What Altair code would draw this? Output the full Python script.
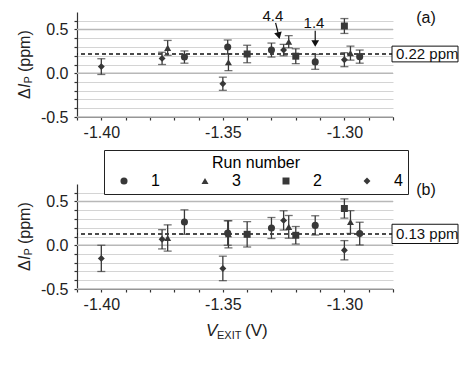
import altair as alt
import pandas as pd

# ---------------- data ----------------
run = ["4", "4", "3", "1", "1", "3", "4", "2", "1", "4", "3", "2", "1", "2", "4", "3", "1"]
v_exit = [-1.400, -1.375, -1.3727, -1.3658, -1.348, -1.3477, -1.350, -1.340, -1.330,
          -1.325, -1.3229, -1.320, -1.312, -1.300, -1.300, -1.2975, -1.2937]
dIp_a = [0.076, 0.17, 0.29, 0.185, 0.30, 0.125, -0.12, 0.22, 0.265,
         0.265, 0.36, 0.195, 0.13, 0.54, 0.155, 0.23, 0.19]
err_a = [0.09, 0.07, 0.085, 0.07, 0.08, 0.095, 0.075, 0.10, 0.08,
         0.065, 0.07, 0.085, 0.085, 0.085, 0.08, 0.08, 0.075]
dIp_b = [-0.15, 0.068, 0.083, 0.265, 0.14, 0.125, -0.265, 0.125, 0.197,
         0.284, 0.21, 0.114, 0.227, 0.42, -0.057, 0.265, 0.133]
err_b = [0.15, 0.11, 0.15, 0.14, 0.14, 0.155, 0.14, 0.145, 0.12,
         0.11, 0.13, 0.10, 0.11, 0.11, 0.11, 0.13, 0.13]
mean_a = 0.22
mean_b = 0.13
label_a = "0.22 ppm"
label_b = "0.13 ppm"

run_order = ["1", "3", "2", "4"]
run_shapes = ["circle", "triangle-up", "square", "diamond"]
run_sizes = [50, 48, 42, 75]

x_ticks = [round(-1.41 + 0.01 * i, 2) for i in range(14)]
y_ticks = [round(-0.5 + 0.1 * i, 1) for i in range(12)]
strong_grid = [-0.5, 0.0, 0.5]

# annotation arrows in panel (a)
ann_label = ["4.4", "1.4"]
ann_tx = [-1.3294, -1.3125]
ann_ty = [0.655, 0.575]
ann_x1 = [-1.3283, -1.3120]
ann_y1 = [0.575, 0.485]
ann_x2 = [-1.3270, -1.3120]
ann_y2 = [0.43, 0.34]
ann_angle = [346, 0]

# ---------------- styling ----------------
W, H = 316, 105
INK = "#383838"
FONT = "Liberation Sans"

xs = alt.Scale(domain=[-1.41, -1.28], nice=False, zero=False)
ys = alt.Scale(domain=[-0.5, 0.7], nice=False, zero=False)

x_axis = alt.Axis(
    title="", values=x_ticks, grid=False,
    labelExpr="abs(round(datum.value*100)) % 5 == 0 ? replace(format(datum.value, '.2f'), '\u2212', '-') : ''",
    labelFontSize=16, labelPadding=4, tickSize=3, labelFlush=False, labelOverlap=False,
    labelBound=False,
)
y_axis = alt.Axis(
    title="", values=y_ticks, grid=True, gridColor="#d4d4d4", gridWidth=1,
    labelExpr="abs(round(datum.value*10)) % 5 == 0 ? replace(format(datum.value, '.1f'), '\u2212', '-') : ''",
    labelFontSize=16, labelPadding=6, tickSize=3, labelOverlap=False, labelBound=False,
    labelFlush=False,
)

legend = alt.Legend(
    title="Run number", orient="none", legendX=27, legendY=138,
    direction="horizontal", columns=4, titleAnchor="middle", titleFontSize=16,
    titleFontWeight="normal", titleFont=FONT, labelFont=FONT, labelFontSize=16,
    symbolFillColor=INK, symbolStrokeColor=INK, symbolOffset=7,
    labelOffset=19, columnPadding=30, padding=5, titlePadding=2,
    strokeColor="#222222", fillColor="white",
)


def X(f):
    return alt.X(f, scale=xs, axis=x_axis)


def Y(f):
    return alt.Y(f, scale=ys, axis=y_axis)


def y_title_layers():
    base = alt.Chart(pd.DataFrame({"s": [0]}))
    parts = []
    specs = [
        ("\u0394", 87, -52, 16, "normal"),
        ("I", 76, -52, 16, "italic"),
        ("P", 71.5, -48, 11, "normal"),
        ("(ppm)", 60, -52, 16, "normal"),
    ]
    for txt, yy, xx, fs, st in specs:
        parts.append(base.mark_text(
            text=txt, angle=270, align="left", baseline="middle", font=FONT,
            fontSize=fs, fontStyle=st, color="#222222",
        ).encode(x=alt.value(xx), y=alt.value(yy)))
    return parts


def panel(dIp, err, mean, mean_label, tag, box_half, is_top, is_bottom):
    df = pd.DataFrame({
        "run": run, "x": v_exit, "y": dIp,
        "lo": [a - b for a, b in zip(dIp, err)],
        "hi": [a + b for a, b in zip(dIp, err)],
    })
    base = alt.Chart(df)
    one = alt.Chart(pd.DataFrame({"s": [0]}))

    layers = []
    layers.append(alt.Chart(pd.DataFrame({"g": strong_grid})).mark_rule(
        color="#b8b8b8", strokeWidth=1.4).encode(y=Y("g:Q")))
    layers.append(alt.Chart(pd.DataFrame({"m": [mean]})).mark_rule(
        color="#111111", strokeDash=[4, 3], strokeWidth=1.5).encode(y=Y("m:Q")))
    layers.append(base.mark_rule(color=INK, strokeWidth=1.3).encode(
        x=X("x:Q"), y=Y("lo:Q"), y2="hi:Q"))
    layers.append(base.mark_tick(orient="horizontal", color=INK, size=8, thickness=1.3).encode(
        x=X("x:Q"), y=Y("lo:Q")))
    layers.append(base.mark_tick(orient="horizontal", color=INK, size=8, thickness=1.3).encode(
        x=X("x:Q"), y=Y("hi:Q")))
    layers.append(base.mark_point(filled=True, opacity=1, color=INK).encode(
        x=X("x:Q"), y=Y("y:Q"),
        shape=alt.Shape("run:N", scale=alt.Scale(domain=run_order, range=run_shapes),
                        sort=run_order, legend=legend),
        size=alt.Size("run:N", scale=alt.Scale(domain=run_order, range=run_sizes),
                      sort=run_order, legend=legend)))
    # value box to the right
    box = pd.DataFrame({"b1": [mean + box_half], "b2": [mean - box_half], "m": [mean],
                        "t": [mean_label]})
    layers.append(alt.Chart(box).mark_rect(fill="white", stroke="#111111", strokeWidth=1).encode(
        x=alt.value(W - 1), x2=alt.value(W + 65), y=Y("b1:Q"), y2="b2:Q"))
    layers.append(alt.Chart(box).mark_text(align="left", baseline="middle", font=FONT,
                                           fontSize=15, color="#111111").encode(
        x=alt.value(W + 3), y=Y("m:Q"), text="t:N"))
    layers.append(one.mark_text(text=tag, align="center", baseline="middle", font=FONT,
                                fontSize=16, color="#111111").encode(
        x=alt.value(W + 33), y=alt.value(6)))
    layers.extend(y_title_layers())

    if is_top:
        ann = pd.DataFrame({"lab": ann_label, "tx": ann_tx, "ty": ann_ty, "x1": ann_x1,
                            "y1": ann_y1, "x2": ann_x2, "y2": ann_y2, "ang": ann_angle})
        ab = alt.Chart(ann)
        layers.append(ab.mark_text(font=FONT, fontSize=15, color="#111111", baseline="middle").encode(
            x=X("tx:Q"), y=Y("ty:Q"), text="lab:N"))
        layers.append(ab.mark_rule(color="#111111", strokeWidth=1.2).encode(
            x=X("x1:Q"), y=Y("y1:Q"), x2="x2:Q", y2="y2:Q"))
        layers.append(ab.mark_point(shape="triangle-down", filled=True, opacity=1,
                                    color="#111111", size=60).encode(
            x=X("x2:Q"), y=Y("y2:Q"), angle=alt.Angle("ang:Q", scale=None)))
    if is_bottom:
        xt = [("V", 129, 147, 17, "italic"), ("EXIT", 140, 152, 11, "normal"),
              ("(V)", 168, 147, 17, "normal")]
        for txt, xx, yy, fs, st in xt:
            layers.append(one.mark_text(text=txt, align="left", baseline="middle", font=FONT,
                                        fontSize=fs, fontStyle=st, color="#222222").encode(
                x=alt.value(xx), y=alt.value(yy)))

    return alt.layer(*layers).properties(width=W, height=H)


top = panel(dIp_a, err_a, mean_a, label_a, "(a)", 0.09, True, False)
bottom = panel(dIp_b, err_b, mean_b, label_b, "(b)", 0.11, False, True)

chart = alt.vconcat(top, bottom, spacing=42).configure_view(strokeOpacity=0).configure_axis(
    labelFont=FONT, labelColor="#222222", domainColor="#333333", tickColor="#333333",
    domainWidth=1.2, tickWidth=1.2,
).properties(padding={"left": 9, "top": 0, "right": 5, "bottom": 5})

chart.save("out.html", embed_options={"renderer": "svg", "actions": False})
